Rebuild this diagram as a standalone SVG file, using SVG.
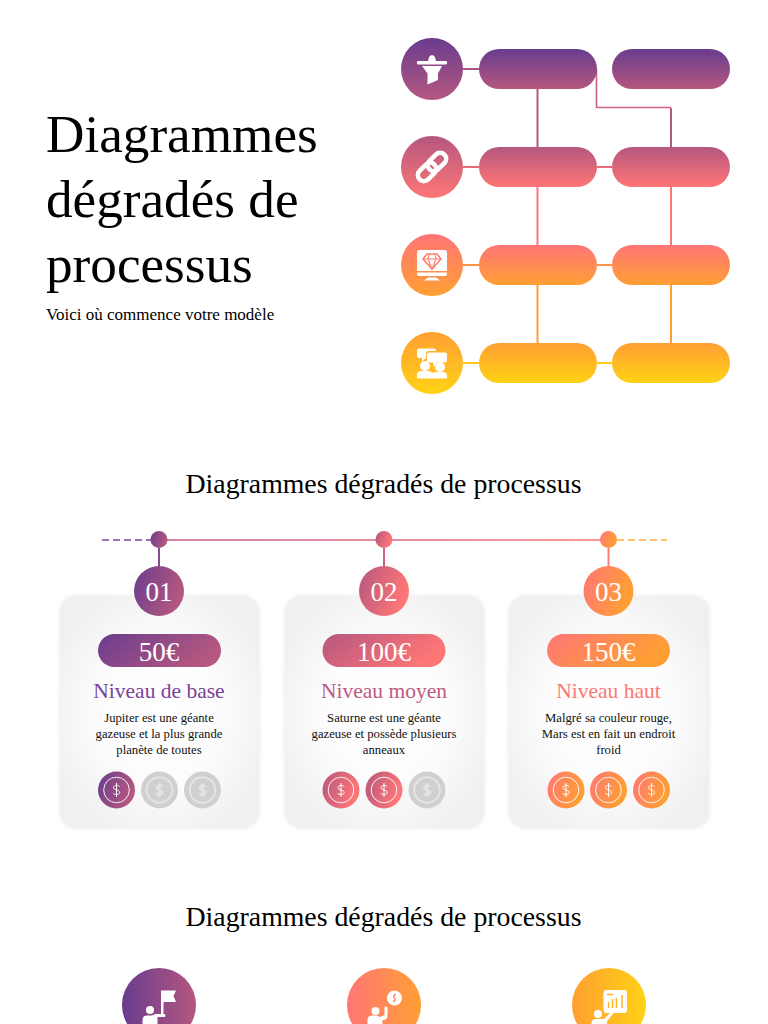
<svg xmlns="http://www.w3.org/2000/svg" width="768" height="1024" viewBox="0 0 768 1024">
<style>
text{font-family:"Liberation Serif","Times New Roman",serif}
.w{fill:#fff}
.ws{fill:none;stroke:#fff}
.num{font-size:27px;fill:#fff;text-anchor:middle}
.nm{font-size:21.5px;text-anchor:middle}
.d{font-size:12.7px;fill:#111;text-anchor:middle}
.h{font-size:27.8px;fill:#000;text-anchor:middle}
.c{fill:none;stroke-width:2}
</style>
<defs>
<linearGradient id="v1" x1="0" y1="0" x2="0" y2="1"><stop offset="0" stop-color="#693c8e"/><stop offset="1" stop-color="#b5577f"/></linearGradient>
<linearGradient id="v2" x1="0" y1="0" x2="0" y2="1"><stop offset="0" stop-color="#b5577f"/><stop offset="1" stop-color="#ff7676"/></linearGradient>
<linearGradient id="v3" x1="0" y1="0" x2="0" y2="1"><stop offset="0" stop-color="#ff7676"/><stop offset="1" stop-color="#ff9f33"/></linearGradient>
<linearGradient id="v4" x1="0" y1="0" x2="0" y2="1"><stop offset="0" stop-color="#ff9f33"/><stop offset="1" stop-color="#ffd215"/></linearGradient>
<linearGradient id="h1" x1="0" y1="0" x2="1" y2="0.35"><stop offset="0" stop-color="#693c8e"/><stop offset="1" stop-color="#b5577f"/></linearGradient>
<linearGradient id="h2" x1="0" y1="0" x2="1" y2="0.35"><stop offset="0" stop-color="#b5577f"/><stop offset="1" stop-color="#ff7676"/></linearGradient>
<linearGradient id="h3" x1="0" y1="0" x2="1" y2="0.35"><stop offset="0" stop-color="#ff7676"/><stop offset="1" stop-color="#ff9f33"/></linearGradient>
<linearGradient id="b1" x1="0" y1="0" x2="1" y2="0"><stop offset="0" stop-color="#693c8e"/><stop offset="1" stop-color="#b5577f"/></linearGradient>
<linearGradient id="b2" x1="0" y1="0" x2="1" y2="0"><stop offset="0" stop-color="#ff7676"/><stop offset="1" stop-color="#ff9f33"/></linearGradient>
<linearGradient id="b3" x1="0" y1="0" x2="1" y2="0"><stop offset="0" stop-color="#ff9f33"/><stop offset="1" stop-color="#ffd215"/></linearGradient>
<linearGradient id="cv" gradientUnits="userSpaceOnUse" x1="0" y1="49" x2="0" y2="383"><stop offset=".12" stop-color="#b5577f"/><stop offset=".293" stop-color="#b5577f"/><stop offset=".413" stop-color="#ff7676"/><stop offset=".587" stop-color="#ff7676"/><stop offset=".707" stop-color="#ff9f33"/><stop offset=".88" stop-color="#ff9f33"/></linearGradient>
<linearGradient id="tl" gradientUnits="userSpaceOnUse" x1="165" y1="0" x2="605" y2="0"><stop offset="0" stop-color="#c25c88"/><stop offset="1" stop-color="#ff7676"/></linearGradient>
<radialGradient id="card" cx=".5" cy=".5" r=".58"><stop offset="0" stop-color="#fff"/><stop offset=".55" stop-color="#fcfcfc"/><stop offset="1" stop-color="#f0f0f0"/></radialGradient>
<filter id="soft" x="-10%" y="-10%" width="120%" height="120%"><feGaussianBlur stdDeviation="2.2"/></filter>
<g id="coin"><circle r="12.8" class="ws" stroke-width=".9"/><path class="ws" stroke-width="1" d="M3-3.4C2.700-5-3-5.400-3-2.300-3 .3 3.200-.5 3.200 2.500 3.200 5.200-2.700 5-3.200 3.200M0-7V7"/></g>
<g id="coinOff"><circle r="18.500" fill="#d0d0d0"/><circle r="12.800" fill="none" stroke="#e4e4e4" stroke-width="2"/><path fill="none" stroke="#e4e4e4" stroke-width="2" d="M3-3.400C2.700-5-3-5.400-3-2.300-3 .3 3.200-.5 3.200 2.500 3.200 5.200-2.700 5-3.200 3.200M0-7V7"/></g>
</defs>
<rect width="768" height="1024" fill="#fff"/>

<g id="connectors">
<path class="c" stroke="#ac5483" d="M463 69H479"/>
<path class="c" stroke="#e96a78" d="M463 167H479M597 167H612"/>
<path class="c" stroke="#ff9448" d="M463 265H479M597 265H612"/>
<path class="c" stroke="#ffc81c" d="M463 363H479M597 363H612"/>
<path class="c" stroke="url(#cv)" d="M537.500 89V343"/>
<path class="c" stroke="url(#cv)" d="M671 108V343"/>
<path fill="none" stroke="#d0607c" stroke-width="1.600" d="M596.500 69V107.500H671"/>
<path fill="none" stroke="#7a4596" stroke-dasharray="7 4" stroke-width="1.400" d="M102 540H152"/>
<path fill="none" stroke="url(#tl)" stroke-width="1.500" d="M165 540H603"/>
<path fill="none" stroke="#ffb040" stroke-width="1.400" stroke-dasharray="7 4" d="M617 540H667"/>
<path fill="none" stroke="#8a4a8e" stroke-width="2" d="M159 548V567"/>
<path fill="none" stroke="#cf6080" stroke-width="2" d="M384 548V567"/>
<path fill="none" stroke="#ff7c72" stroke-width="2" d="M608.500 548V567"/>
</g>

<g id="title">
<text x="46" y="151.500" font-size="53.200">Diagrammes</text>
<text x="46" y="216.500" font-size="53.200">dégradés de</text>
<text x="46" y="281.500" font-size="53.200">processus</text>
<text x="46" y="319.500" font-size="17">Voici où commence votre modèle</text>
</g>

<g id="node-funnel">
<circle cx="432" cy="69" r="31" fill="url(#v1)"/>
<path class="w" d="M418 61H428C428.500 57 430 55 432 55 434 55 435.500 57 436 61H446C447.500 61 447.500 64.500 446 64.500H418C416.500 64.500 416.500 61 418 61Z"/>
<path class="w" d="M422 66H442L438 73.500V80L427.500 84.500V73.500Z"/>
</g>
<g id="node-link">
<circle cx="432" cy="167" r="31" fill="url(#v2)"/>
<g fill="none" stroke="#fff" stroke-width="4.600" transform="rotate(-45 432 167)"><rect x="414.500" y="161" width="21" height="12" rx="6"/><rect x="428.500" y="161" width="21" height="12" rx="6"/></g>
</g>
<g id="node-gem">
<circle cx="432" cy="265" r="31" fill="url(#v3)"/>
<path class="w" d="M419 250H445Q447 250 447 252V271H417V252Q417 250 419 250ZM417 272.500H447V274Q447 276 445 276H419Q417 276 417 274ZM428 277.500H436L440 280.500H424Z"/>
<path d="M427 254H437L441 259 432 269 423 259Z" fill="none" stroke="#ff7f6c" stroke-width="1.600"/>
<path d="M423 259H441M429 254 428 259 432 269 436 259 435 254" fill="none" stroke="#ff7f6c" stroke-width="1.100"/>
</g>
<g id="node-chat">
<circle cx="432" cy="363" r="31" fill="url(#v4)"/>
<path class="w" d="M419 348.500H434Q436 348.500 436 350V351H429Q426 351 426 354V358L422 361.500V358H419Q417 358 417 356V350.500Q417 348.500 419 348.500Z"/>
<path class="w" d="M429 352.500H445Q447 352.500 447 354.500V360.500Q447 362.500 445 362.500H437L433.500 367.500 433 362.500H429Q427 362.500 427 360.500V354.500Q427 352.500 429 352.500Z"/>
<circle class="w" cx="425" cy="366" r="5"/><circle class="w" cx="440" cy="367" r="5"/>
<path class="w" d="M417 378.500V374.500Q417 371 421 371H428Q431 371 432.500 373 434 372 437 372H443Q447 372 447 376V378.500Z"/>
</g>
<g id="pill-r1c1"><rect x="479" y="49" width="118" height="40" rx="20" fill="url(#v1)"/></g>
<g id="pill-r1c2"><rect x="612" y="49" width="118" height="40" rx="20" fill="url(#v1)"/></g>
<g id="pill-r2c1"><rect x="479" y="147" width="118" height="40" rx="20" fill="url(#v2)"/></g>
<g id="pill-r2c2"><rect x="612" y="147" width="118" height="40" rx="20" fill="url(#v2)"/></g>
<g id="pill-r3c1"><rect x="479" y="245" width="118" height="40" rx="20" fill="url(#v3)"/></g>
<g id="pill-r3c2"><rect x="612" y="245" width="118" height="40" rx="20" fill="url(#v3)"/></g>
<g id="pill-r4c1"><rect x="479" y="343" width="118" height="40" rx="20" fill="url(#v4)"/></g>
<g id="pill-r4c2"><rect x="612" y="343" width="118" height="40" rx="20" fill="url(#v4)"/></g>

<text class="h" x="383.500" y="493">Diagrammes dégradés de processus</text>

<g id="card-1">
<rect x="60" y="596" width="199" height="232" rx="16" fill="#e8e8e8" filter="url(#soft)"/>
<rect x="61" y="597" width="197" height="230" rx="15" fill="url(#card)"/>
<circle cx="159" cy="539.500" r="8.500" fill="url(#h1)"/>
<circle cx="159" cy="591" r="25" fill="url(#h1)"/>
<text class="num" x="159" y="601">01</text>
<rect x="98" y="634" width="123" height="33" rx="16.500" fill="url(#h1)"/>
<text class="num" x="159" y="661">50€</text>
<text class="nm" x="159" y="698" fill="#7a429a">Niveau de base</text>
<text class="d" x="159" y="722">Jupiter est une géante</text>
<text class="d" x="159" y="738">gazeuse et la plus grande</text>
<text class="d" x="159" y="754">planète de toutes</text>
<circle cx="116.500" cy="790" r="18.500" fill="url(#h1)"/><use href="#coin" x="116.500" y="790"/>
<use href="#coinOff" x="159.500" y="790"/>
<use href="#coinOff" x="202.500" y="790"/>
</g>
<g id="card-2">
<rect x="285" y="596" width="199" height="232" rx="16" fill="#e8e8e8" filter="url(#soft)"/>
<rect x="286" y="597" width="197" height="230" rx="15" fill="url(#card)"/>
<circle cx="384" cy="539.500" r="8.500" fill="url(#h2)"/>
<circle cx="384" cy="591" r="25" fill="url(#h2)"/>
<text class="num" x="384" y="601">02</text>
<rect x="322.500" y="634" width="123" height="33" rx="16.500" fill="url(#h2)"/>
<text class="num" x="384" y="661">100€</text>
<text class="nm" x="384" y="698" fill="#bc5a82">Niveau moyen</text>
<text class="d" x="384" y="722">Saturne est une géante</text>
<text class="d" x="384" y="738">gazeuse et possède plusieurs</text>
<text class="d" x="384" y="754">anneaux</text>
<circle cx="341" cy="790" r="18.500" fill="url(#h2)"/><use href="#coin" x="341" y="790"/>
<circle cx="384" cy="790" r="18.500" fill="url(#h2)"/><use href="#coin" x="384" y="790"/>
<use href="#coinOff" x="427" y="790"/>
</g>
<g id="card-3">
<rect x="509" y="596" width="200" height="232" rx="16" fill="#e8e8e8" filter="url(#soft)"/>
<rect x="510" y="597" width="198" height="230" rx="15" fill="url(#card)"/>
<circle cx="608.500" cy="539.500" r="8.500" fill="url(#h3)"/>
<circle cx="608.500" cy="591" r="25" fill="url(#h3)"/>
<text class="num" x="608.500" y="601">03</text>
<rect x="547" y="634" width="123" height="33" rx="16.500" fill="url(#h3)"/>
<text class="num" x="608.500" y="661">150€</text>
<text class="nm" x="608.500" y="698" fill="#ff7676">Niveau haut</text>
<text class="d" x="608.500" y="722">Malgré sa couleur rouge,</text>
<text class="d" x="608.500" y="738">Mars est en fait un endroit</text>
<text class="d" x="608.500" y="754">froid</text>
<circle cx="566" cy="790" r="18.500" fill="url(#h3)"/><use href="#coin" x="566" y="790"/>
<circle cx="608.500" cy="790" r="18.500" fill="url(#h3)"/><use href="#coin" x="608.500" y="790"/>
<circle cx="651.500" cy="790" r="18.500" fill="url(#h3)"/><use href="#coin" x="651.500" y="790"/>
</g>

<text class="h" x="383.500" y="926">Diagrammes dégradés de processus</text>

<g id="bottom-1">
<circle cx="159" cy="1005" r="37" fill="url(#b1)"/>
<circle class="w" cx="150" cy="1010" r="4"/>
<path class="w" d="M161 990.500H176L173.500 996 176 1002H163.500V1014H164Q165.500 1014 165.500 1015.500 165.500 1017 164 1017H157.500V1024H142.500V1020Q142.500 1015.500 147 1015.500L152 1015.500 155 1014H161Z"/>
</g>
<g id="bottom-2">
<circle cx="384" cy="1005" r="37" fill="url(#b2)"/>
<circle class="w" cx="375.500" cy="1011" r="4"/>
<circle class="w" cx="394.500" cy="998" r="7.500"/>
<path d="M396 994.500Q392.500 995 394.500 998 396.500 1000.500 393 1001.500" fill="none" stroke="#ff8a5a" stroke-width="1.500"/>
<path class="w" d="M367.500 1024V1020Q367.500 1015.500 372 1015.500H377L380 1017 384.500 1015V1007.500Q384.500 1006.500 386 1006.500 387.500 1006.500 387.500 1007.500V1015.500Q387.500 1019.500 384 1020H382.500V1024Z"/>
</g>
<g id="bottom-3">
<circle cx="609" cy="1005" r="37" fill="url(#b3)"/>
<rect class="w" x="603.500" y="990" width="23.500" height="23" rx="3"/>
<path d="M607 994.500H613M608.500 1008V1002M612.500 1008V999M616.500 1008V998M622 1008V995" fill="none" stroke="#ffb522" stroke-width="1.500"/>
<circle class="w" cx="598" cy="1014" r="4"/>
<path class="w" d="M591.500 1024V1023Q591.500 1019 596 1019H604L611.500 1011.500 613.500 1013 607 1021.500V1024Z"/>
</g>
</svg>
